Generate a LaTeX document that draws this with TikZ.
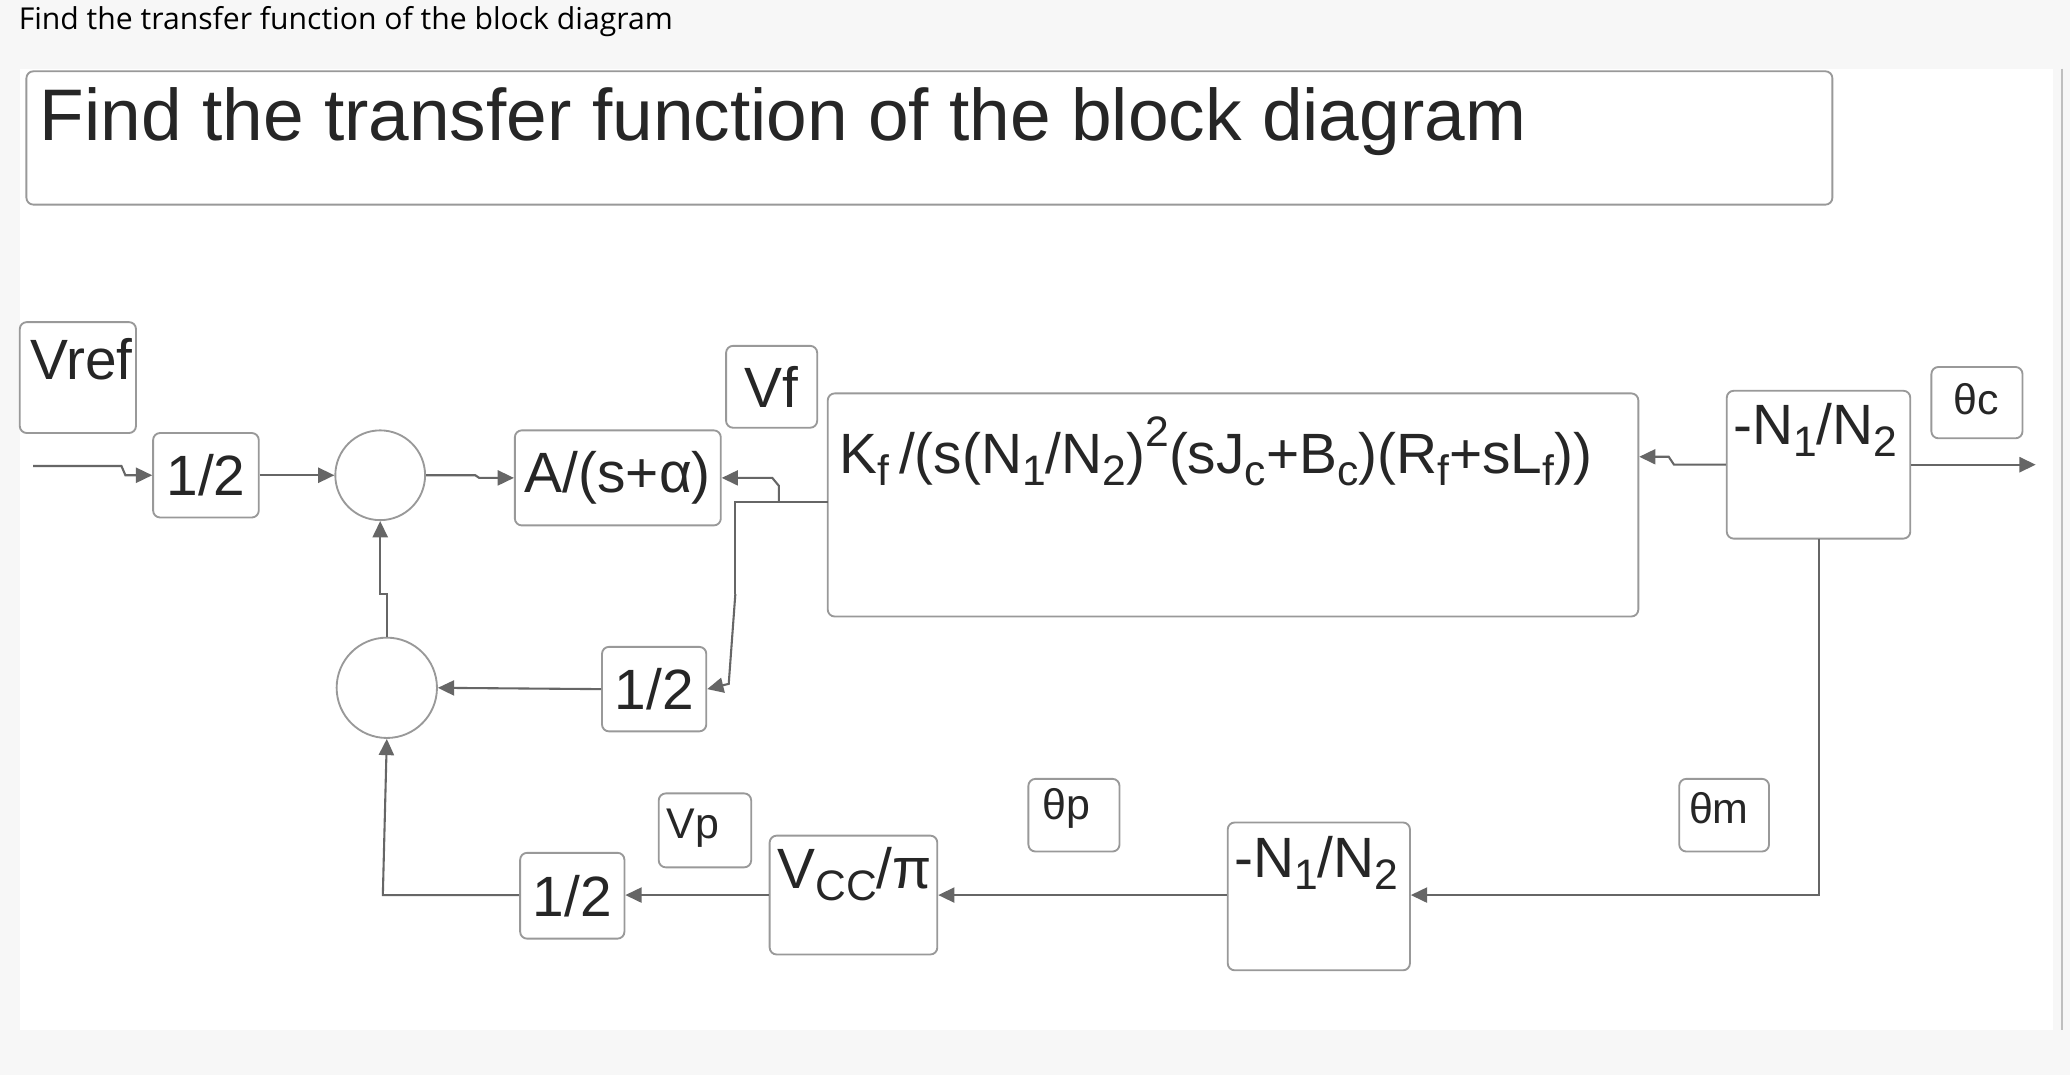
\documentclass[tikz,border=0pt]{standalone}
\usepackage{fontspec}
\setmainfont{Liberation Sans}
\newfontfamily\topf{Open Sans}
\usetikzlibrary{arrows.meta}
\newcommand\mysub[1]{\raisebox{-0.4ex}{\scalebox{0.75}{#1}}}
\newcommand\mysup[1]{\raisebox{0.9ex}{\scalebox{0.75}{#1}}}
\tikzset{
 bx/.style={draw=black!40,rounded corners=3pt,line width=0.8pt,fill=white,inner sep=0pt},
 ln/.style={draw=black!60,line width=0.9pt},
 ar/.style={ln,-{Triangle[length=7pt,width=6.5pt]}},
 txt/.style={font=\fontsize{24.5}{27}\selectfont,text=black!85},
 sm/.style={font=\fontsize{18.5}{20}\selectfont,text=black!85}
}
\newcommand\bx[6]{\node[bx,txt,minimum width={(#4-#2)*0.02cm},minimum height={(#5-#3)*0.02cm}] (#1) at ({(#2+#4)/2},{(#3+#5)/2}) {#6};}
\begin{document}
\begin{tikzpicture}[x=0.02cm,y=-0.02cm]
\useasboundingbox (0,0) rectangle (1568,814);
\fill[black!3] (0,0) rectangle (1568,814);
\fill[white] (15,52) rectangle (1555,780);
\draw[black!25,line width=1pt] (1562,52) -- (1562,780);
\node[anchor=west,font=\topf\fontsize{13}{14}\selectfont] (top) at (8,16) {Find the transfer function of the block diagram};
\bx{title}{20}{54}{1388}{155}{}
\node[anchor=west,font=\fontsize{31.5}{34}\selectfont,text=black!85] (tt) at (24,92) {Find the transfer function of the block diagram};
\bx{vref}{15}{244}{103}{328}{}
\node[txt,anchor=north west] (vr) at (17,250) {Vref};
\bx{h1}{116}{328}{196}{392}{1/2}
\node[draw=black!40,line width=0.8pt,circle,minimum size={68*0.02cm}] (c1) at (288,360) {};
\node[draw=black!40,line width=0.8pt,circle,minimum size={76*0.02cm}] (c2) at (293,521) {};
\bx{A}{390}{326}{546}{398}{A/(s+α)}
\bx{vf}{550}{262}{619}{324}{Vf}
\bx{G}{627}{298}{1241}{467}{}
\node[txt,anchor=west] (gt) at (630,342) {K\mysub{f}\,/(s(N\mysub{1}/N\mysub{2})\mysup{2}(sJ\mysub{c}+B\mysub{c})(R\mysub{f}+sL\mysub{f}))};
\bx{nr}{1308}{296}{1447}{408}{}
\node[txt,anchor=north west,inner sep=2pt] (nrt) at (1309,302) {-N\mysub{1}/N\mysub{2}};
\bx{tc}{1463}{278}{1532}{332}{}
\node[sm,anchor=north] at (1497,284) {θc};
\bx{h2}{456}{490}{535}{554}{1/2}
\bx{vp}{499}{601}{569}{657}{}
\node[sm] at (525,627) {Vp};
\bx{h3}{394}{646}{473}{711}{1/2}
\bx{vc}{583}{633}{710}{723}{}
\node[txt,anchor=north west,inner sep=2pt] at (585,638) {V\mysub{CC}/π};
\bx{tp}{779}{590}{848}{645}{}
\node[sm] at (808,612) {θp};
\bx{nb}{930}{623}{1068}{735}{}
\node[txt,anchor=north west,inner sep=2pt] at (931,630) {-N\mysub{1}/N\mysub{2}};
\bx{tm}{1272}{590}{1340}{645}{}
\node[sm] at (1302,612) {θm};
\coordinate (in) at (25,353);
\coordinate (out) at (1542,352);
% connectors
\draw[ar] (in) -- (92,353) -- (95,360) -- (h1.west);
\draw[ar] (h1.east) -- (c1.west);
\draw[ar] (c1.east) -- (360,360) -- (363,362) -- (A.west);
\draw[ln] (627,380) -- (557,380) -- (557,450);
\draw[ar] (557,450) -- (552,518) -- (h2.east);
\draw[ar] (590,380) -- (590,368) -- (585,362) -- (A.east |- 0,362);
\draw[ar] (h2.west) -- (c2.east);
\draw[ar] (c2.north) -- (293,450) -- (288,450) -- (c1.south);
\draw[ar] (nr.west |- 0,352) -- (1268,352) -- (1264,346) -- (G.east |- 0,346);
\draw[ar] (nr.east |- 0,352) -- (out);
\draw[ar] (1378,408) -- (1378,678) -- (nb.east |- 0,678);
\draw[ar] (nb.west |- 0,678) -- (vc.east |- 0,678);
\draw[ar] (vc.west |- 0,678) -- (h3.east |- 0,678);
\draw[ar] (h3.west |- 0,678) -- (290,678) -- (c2.south);
\end{tikzpicture}
\end{document}
